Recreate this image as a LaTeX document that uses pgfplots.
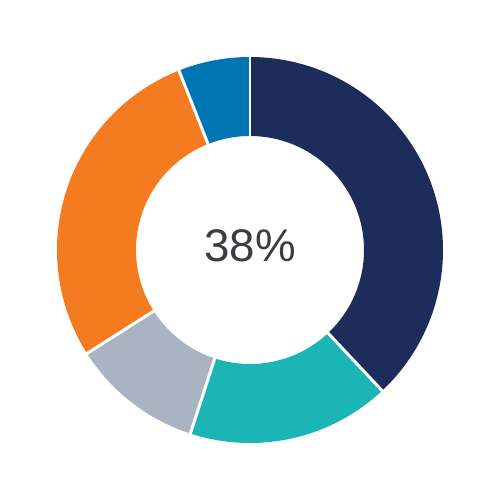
\documentclass[border=0pt]{standalone}
\usepackage{pgfplots}
\pgfplotsset{compat=1.18}
\usepackage{fontspec}
\setmainfont{Liberation Sans}

\definecolor{cNavy}{HTML}{1C2D5B}
\definecolor{cTeal}{HTML}{1CB5B6}
\definecolor{cGrey}{HTML}{A9B4C2}
\definecolor{cOrange}{HTML}{F47B20}
\definecolor{cBlue}{HTML}{0075B4}
\definecolor{cText}{HTML}{3A3E43}

% shares in percent, clockwise from 12 o'clock
\def\pA{38}\def\pB{17}\def\pC{11}\def\pD{28}\def\pE{6}

\begin{document}
\begin{tikzpicture}
\pgfmathsetmacro\aA{90}
\pgfmathsetmacro\aB{\aA-3.6*\pA}
\pgfmathsetmacro\aC{\aB-3.6*\pB}
\pgfmathsetmacro\aD{\aC-3.6*\pC}
\pgfmathsetmacro\aE{\aD-3.6*\pD}
\pgfmathsetmacro\aF{\aE-3.6*\pE}
\begin{axis}[
    hide axis,
    scale only axis,
    width=10cm, height=10cm,
    xmin=-250, xmax=250,
    ymin=-250, ymax=250,
    clip=false,
    ring/.style={line width=1.58cm, samples=120, variable=\t},
]
% keep the full square canvas
\addplot[draw=none, forget plot] coordinates {(-250,-250) (250,250)};
\addplot[ring, cNavy,   domain=\aB:\aA] ({153.5*cos(t)}, {153.5*sin(t)});
\addplot[ring, cTeal,   domain=\aC:\aB] ({153.5*cos(t)}, {153.5*sin(t)});
\addplot[ring, cGrey,   domain=\aD:\aC] ({153.5*cos(t)}, {153.5*sin(t)});
\addplot[ring, cOrange, domain=\aE:\aD] ({153.5*cos(t)}, {153.5*sin(t)});
\addplot[ring, cBlue,   domain=\aF:\aE] ({153.5*cos(t)}, {153.5*sin(t)});
% white gaps between the slices
\addplot[white, line width=1.7pt, data cs=polar] coordinates {(\aA,110) (\aA,200)};
\addplot[white, line width=1.7pt, data cs=polar] coordinates {(\aB,110) (\aB,200)};
\addplot[white, line width=1.7pt, data cs=polar] coordinates {(\aC,110) (\aC,200)};
\addplot[white, line width=1.7pt, data cs=polar] coordinates {(\aD,110) (\aD,200)};
\addplot[white, line width=1.7pt, data cs=polar] coordinates {(\aE,110) (\aE,200)};
\node[text=cText, anchor=base, inner sep=0pt, font=\fontsize{26}{30}\selectfont] at (axis cs:0,-12) {38\%};
\end{axis}
\end{tikzpicture}
\end{document}
